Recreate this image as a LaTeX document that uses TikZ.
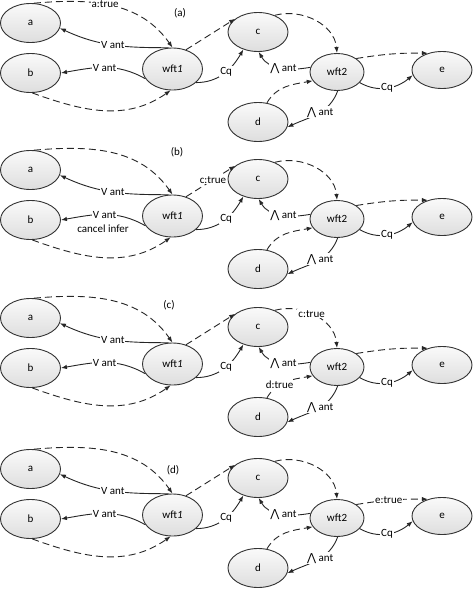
\documentclass[tikz,border=0pt]{standalone}
\usepackage{fontspec}
\setmainfont{Carlito}
\newfontfamily\symfont{DejaVu Sans}
\usetikzlibrary{shapes.geometric,arrows.meta}
\newcommand{\wand}{{\symfont ⋀}}

\begin{document}
\begin{tikzpicture}[x=1pt, y=1pt, font=\fontsize{11}{13}\selectfont,
    state/.style={ellipse, draw=black!80, line width=0.9pt, top color=gray!4,
        bottom color=gray!26, minimum width=60pt, minimum height=39pt, inner sep=0pt},
    link/.style={draw=black!85, line width=0.9pt, -{Latex[length=6pt,width=4.5pt]}},
    infer/.style={link, dash pattern=on 7pt off 4pt},
    lbl/.style={fill=white, inner sep=1pt}]

    \useasboundingbox (0,0) rectangle (474,-590);

    \foreach \p/\dy in {1/0, 2/147, 3/295, 4/446} {
    \begin{scope}[shift={(0,-\dy)}]
        \node[state] (a\p) at (30.5,-23) {a};
        \node[state] (b\p) at (30.5,-73) {b};
        \node[state, minimum height=42pt] (w\p) at (172.5,-69) {wft\textit{1}};
        \node[state] (c\p) at (258,-32) {c};
        \node[state, minimum width=54pt, minimum height=37pt] (v\p) at (337,-72) {wft2};
        \node[state] (d\p) at (258,-122) {d};
        \node[state, minimum height=37pt] (e\p) at (442,-70) {e};

        % left half
        \draw[infer] (a\p.80) to[out=5, in=125] coordinate[pos=0.45] (at\p) (w\p.north);
        \draw[link] (w\p.100) to[out=180, in=-25] node[lbl, pos=0.5] (va\p) {V ant} (a\p.-10);
        \draw[link] (w\p.200) to[out=150, in=10] node[lbl, pos=0.5] (vb\p) {V ant} (b\p.east);
        \draw[infer] (b\p.-85) to[out=-20, in=-145] (w\p.-95);
        \draw[infer] (w\p.55) -- coordinate[pos=0.55] (ct\p) (c\p.150);
        \draw[link] (w\p.-30) to[out=0, in=-120] node[lbl, pos=0.55] {Cq} (c\p.-130);

        % right half
        \draw[link] (v\p.170) to[out=190, in=-60] node[lbl, pos=0.45] {\wand\ ant} (c\p.-88);
        \draw[infer] (c\p.45) to[out=15, in=95] coordinate[pos=0.45] (cv\p) (v\p.north);
        \draw[infer] (d\p.65) to[out=60, in=190] coordinate[pos=0.35] (dv\p) (v\p.200);
        \draw[link] (v\p.-88) to[out=-110, in=25] node[lbl, pos=0.45] {\wand\ ant} (d\p.-10);
        \draw[infer] (v\p.35) to[bend left=5] coordinate[pos=0.45] (ve\p) (e\p.130);
        \draw[link] (v\p.-25) to[out=-30, in=-140] node[lbl, pos=0.5] {Cq} (e\p.190);
    \end{scope}
    }

    \node (ta) at (180,-13) {(a)};
    \node (tb) at (177,-152) {(b)};
    \node (tc) at (169,-305) {(c)};
    \node (td) at (173,-470) {(d)};

    \node[lbl] at (at1) {a:true};
    \node[lbl] at (ct2) {c:true};
    \node (ci) at (103,-229) {cancel infer};
    \node[lbl] at (cv3) {c:true};
    \node[lbl] at (dv3) {d:true};
    \node[lbl] at (ve4) {e:true};

\end{tikzpicture}
\end{document}
